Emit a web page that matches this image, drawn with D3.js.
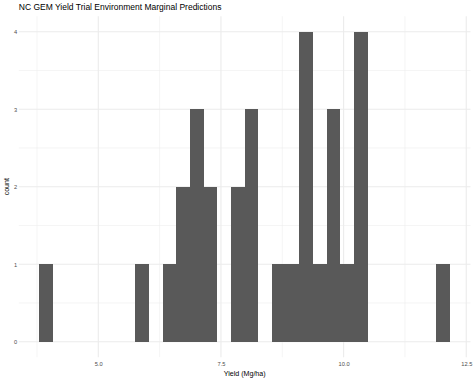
<!DOCTYPE html>
<html>
<head>
<meta charset="utf-8">
<script src="https://cdn.jsdelivr.net/npm/d3@7"></script>
<style>
  html, body { margin: 0; padding: 0; background: #ffffff; }
  svg { display: block; }
  text { font-family: "Liberation Sans", Arial, sans-serif; }
</style>
</head>
<body>
<svg id="chart" width="474" height="379"></svg>
<script>
// ---- data ----
const title = "NC GEM Yield Trial Environment Marginal Predictions";
const xLabel = "Yield (Mg/ha)";
const yLabel = "count";
// histogram: 30 bins, first bin left edge and bin width (Mg/ha)
const binStart = 3.798;
const binWidth = 0.279;
const binCounts = [1,0,0,0,0,0,0,1,0,1,2,3,2,0,2,3,0,1,1,4,1,3,1,4,0,0,0,0,0,1];
const xTicks = [5.0, 7.5, 10.0, 12.5];
const xTickLabels = ["5.0", "7.5", "10.0", "12.5"];
const xMinor = [3.75, 6.25, 8.75, 11.25];
const yTicks = [0, 1, 2, 3, 4];
const yMinor = [0.5, 1.5, 2.5, 3.5];

// ---- layout ----
const svg = d3.select("#chart");
const panel = { left: 18.8, right: 470.5, top: 16.2, bottom: 357.2 };

const bins = binCounts.map((c, i) => ({ x0: binStart + i * binWidth, x1: binStart + (i + 1) * binWidth, count: c }));
const dataMin = bins[0].x0, dataMax = bins[bins.length - 1].x1;
const xPad = (dataMax - dataMin) * 0.05;
const yMax = d3.max(bins, d => d.count);
const yPad = yMax * 0.05;

const x = d3.scaleLinear().domain([dataMin - xPad, dataMax + xPad]).range([panel.left, panel.right]);
const y = d3.scaleLinear().domain([-yPad, yMax + yPad]).range([panel.bottom, panel.top]);

// grid
const g = svg.append("g");
g.selectAll("line.xminor").data(xMinor).join("line")
  .attr("x1", d => x(d)).attr("x2", d => x(d)).attr("y1", panel.top).attr("y2", panel.bottom)
  .attr("stroke", "#ebebeb").attr("stroke-width", 0.55);
g.selectAll("line.yminor").data(yMinor).join("line")
  .attr("y1", d => y(d)).attr("y2", d => y(d)).attr("x1", panel.left).attr("x2", panel.right)
  .attr("stroke", "#ebebeb").attr("stroke-width", 0.55);
g.selectAll("line.xmajor").data(xTicks).join("line")
  .attr("x1", d => x(d)).attr("x2", d => x(d)).attr("y1", panel.top).attr("y2", panel.bottom)
  .attr("stroke", "#ebebeb").attr("stroke-width", 1.1);
g.selectAll("line.ymajor").data(yTicks).join("line")
  .attr("y1", d => y(d)).attr("y2", d => y(d)).attr("x1", panel.left).attr("x2", panel.right)
  .attr("stroke", "#ebebeb").attr("stroke-width", 1.1);

// bars
svg.append("g").attr("shape-rendering", "crispEdges")
  .selectAll("rect").data(bins.filter(b => b.count > 0)).join("rect")
  .attr("x", d => x(d.x0))
  .attr("width", d => x(d.x1) - x(d.x0))
  .attr("y", d => y(d.count))
  .attr("height", d => y(0) - y(d.count))
  .attr("fill", "#595959");

// axes labels
const xAxis = d3.axisBottom(x).tickValues(xTicks).tickFormat((d, i) => xTickLabels[i]).tickSize(0).tickPadding(0);
const xa = svg.append("g").attr("transform", `translate(0,${panel.bottom})`).call(xAxis);
xa.select(".domain").remove();
xa.selectAll("text").attr("y", 8.6).attr("dy", null).attr("fill", "#4d4d4d")
  .style("font-size", "5.7px").style("font-family", "Liberation Sans, Arial, sans-serif");

const yAxis = d3.axisLeft(y).tickValues(yTicks).tickFormat(d3.format("d")).tickSize(0).tickPadding(0);
const ya = svg.append("g").attr("transform", `translate(${panel.left - 1.6},0)`).call(yAxis);
ya.select(".domain").remove();
ya.selectAll("text").attr("x", 0).attr("dy", "0.35em").attr("fill", "#4d4d4d")
  .style("font-size", "5.7px").style("font-family", "Liberation Sans, Arial, sans-serif");

// titles
svg.append("text").attr("x", panel.left).attr("y", 10.2)
  .attr("fill", "#000").style("font-size", "8.5px").text(title);
svg.append("text").attr("x", (panel.left + panel.right) / 2).attr("y", 376)
  .attr("text-anchor", "middle").attr("fill", "#000").style("font-size", "7.1px").text(xLabel);
svg.append("text").attr("transform", `translate(9.3,${(panel.top + panel.bottom) / 2}) rotate(-90)`)
  .attr("text-anchor", "middle").attr("fill", "#000").style("font-size", "7.1px").text(yLabel);
</script>
</body>
</html>
